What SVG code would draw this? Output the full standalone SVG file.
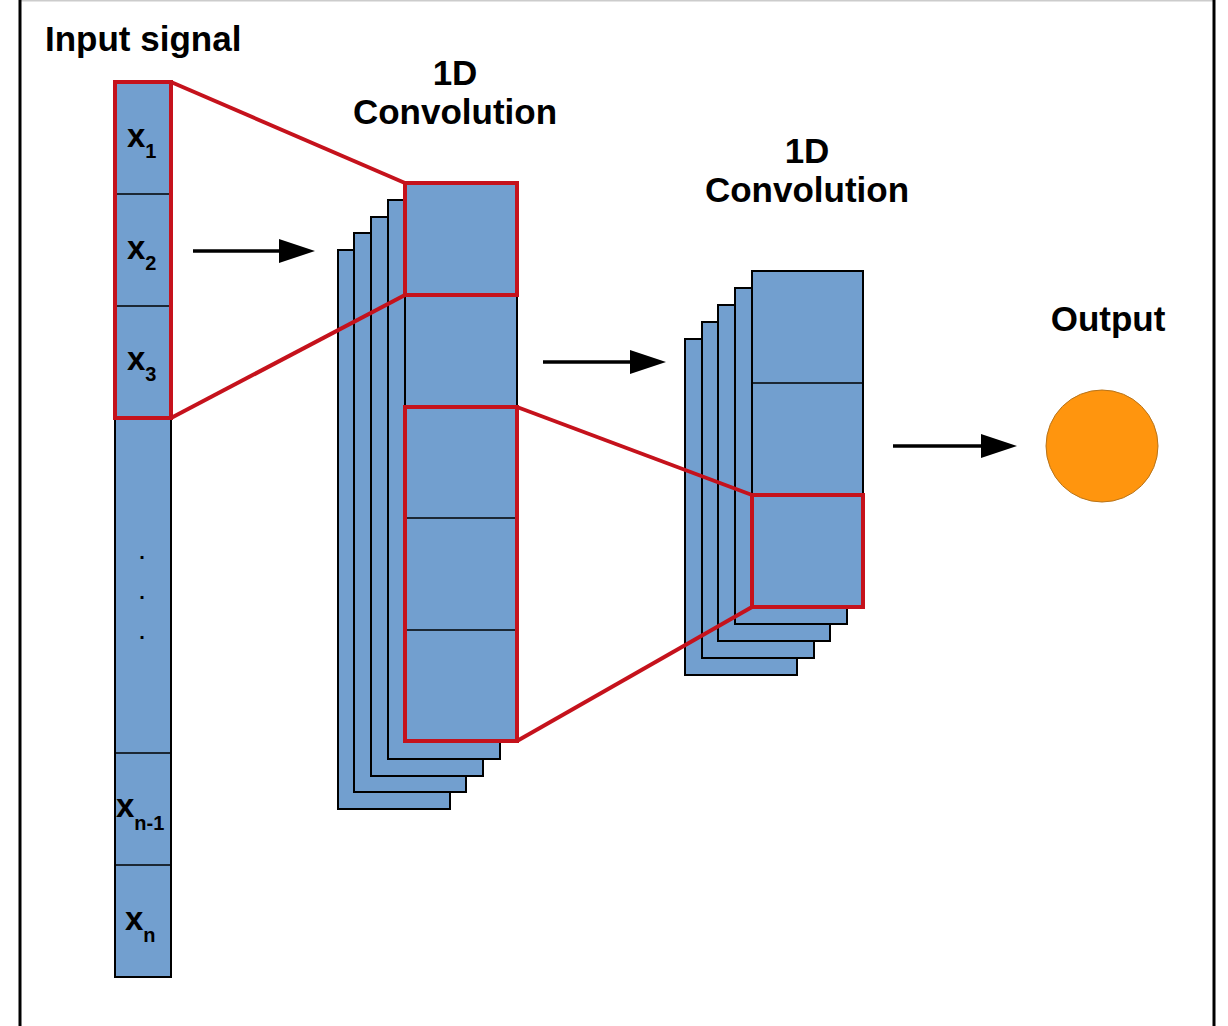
<svg xmlns="http://www.w3.org/2000/svg" width="1228" height="1026" viewBox="0 0 1228 1026">
<defs>
<style>
.cell{fill:#729fcf;stroke:#000;stroke-width:2}
.sep{stroke:#000;stroke-width:1.5}
.red{fill:none;stroke:#c5121c;stroke-width:4;stroke-linejoin:miter}
.redl{stroke:#c5121c;stroke-width:4}
.arr{stroke:#000;stroke-width:3.5;marker-end:url(#ah)}
.t{font-family:"Liberation Sans",Arial,sans-serif;font-weight:bold;fill:#000}
.title{font-size:35px}
.var{font-size:33px}
.sub{font-size:20px}
</style>
<marker id="ah" markerUnits="userSpaceOnUse" markerWidth="36" markerHeight="24" refX="26" refY="12" orient="auto">
<path d="M0,0 L36,12 L0,24 z" fill="#000"/>
</marker>
</defs>
<rect x="0" y="0" width="1228" height="1026" fill="#fff"/>
<g id="frame">
<line x1="19" y1="0.5" x2="1214" y2="0.5" stroke="#cccccc" stroke-width="2"/>
<line x1="20" y1="0" x2="20" y2="1026" stroke="#000" stroke-width="3"/>
<line x1="1214" y1="0" x2="1214" y2="1026" stroke="#000" stroke-width="3"/>
</g>
<g id="input">
<text class="t title" x="45" y="51">Input signal</text>
<rect class="cell" x="115" y="82" width="56" height="895"/>
<line class="sep" x1="115" y1="194" x2="171" y2="194"/>
<line class="sep" x1="115" y1="306" x2="171" y2="306"/>
<line class="sep" x1="115" y1="418" x2="171" y2="418"/>
<line class="sep" x1="115" y1="753" x2="171" y2="753"/>
<line class="sep" x1="115" y1="865" x2="171" y2="865"/>
<text class="t var" x="127" y="147">x<tspan class="sub" dy="11">1</tspan></text>
<text class="t var" x="127" y="259">x<tspan class="sub" dy="11">2</tspan></text>
<text class="t var" x="127" y="370">x<tspan class="sub" dy="11">3</tspan></text>
<text class="t sub" x="142" y="559" text-anchor="middle">.</text>
<text class="t sub" x="142" y="599" text-anchor="middle">.</text>
<text class="t sub" x="142" y="639" text-anchor="middle">.</text>
<text class="t var" x="116" y="817">x<tspan class="sub" dy="13">n-1</tspan></text>
<text class="t var" x="125" y="930">x<tspan class="sub" dy="12">n</tspan></text>
<rect class="red" x="115" y="82" width="56" height="336"/>
</g>
<g id="conv1">
<text class="t title" x="455" y="85" text-anchor="middle">1D</text>
<text class="t title" x="455" y="124" text-anchor="middle">Convolution</text>
<rect class="cell" x="338" y="250" width="112" height="559"/>
<rect class="cell" x="354" y="233" width="112" height="559"/>
<rect class="cell" x="371" y="217" width="112" height="559"/>
<rect class="cell" x="388" y="200" width="112" height="559"/>
<rect class="cell" x="405" y="183" width="112" height="558"/>
<line class="sep" x1="405" y1="295" x2="517" y2="295"/>
<line class="sep" x1="405" y1="407" x2="517" y2="407"/>
<line class="sep" x1="405" y1="518" x2="517" y2="518"/>
<line class="sep" x1="405" y1="630" x2="517" y2="630"/>
<rect class="red" x="405" y="183" width="112" height="112"/>
<rect class="red" x="405" y="407" width="112" height="334"/>
</g>
<g id="conv2">
<text class="t title" x="807" y="163" text-anchor="middle">1D</text>
<text class="t title" x="807" y="202" text-anchor="middle">Convolution</text>
<rect class="cell" x="685" y="339" width="112" height="336"/>
<rect class="cell" x="702" y="322" width="112" height="336"/>
<rect class="cell" x="718" y="305" width="112" height="336"/>
<rect class="cell" x="735" y="288" width="112" height="336"/>
<rect class="cell" x="752" y="271" width="111" height="336"/>
<line class="sep" x1="752" y1="383" x2="863" y2="383"/>
<line class="sep" x1="752" y1="495" x2="863" y2="495"/>
<rect class="red" x="752" y="495" width="111" height="112"/>
</g>
<g id="output">
<text class="t title" x="1108" y="331" text-anchor="middle">Output</text>
<circle cx="1102" cy="446" r="56" fill="#ff950e" stroke="#b8741a" stroke-width="1"/>
</g>
<g id="connectors">
<line class="redl" x1="171" y1="82" x2="405" y2="183"/>
<line class="redl" x1="171" y1="418" x2="405" y2="295"/>
<line class="redl" x1="517" y1="407" x2="752" y2="495"/>
<line class="redl" x1="517" y1="741" x2="752" y2="607"/>
<line class="arr" x1="193" y1="251" x2="305" y2="251"/>
<line class="arr" x1="543" y1="362" x2="656" y2="362"/>
<line class="arr" x1="893" y1="446" x2="1007" y2="446"/>
</g>
</svg>
